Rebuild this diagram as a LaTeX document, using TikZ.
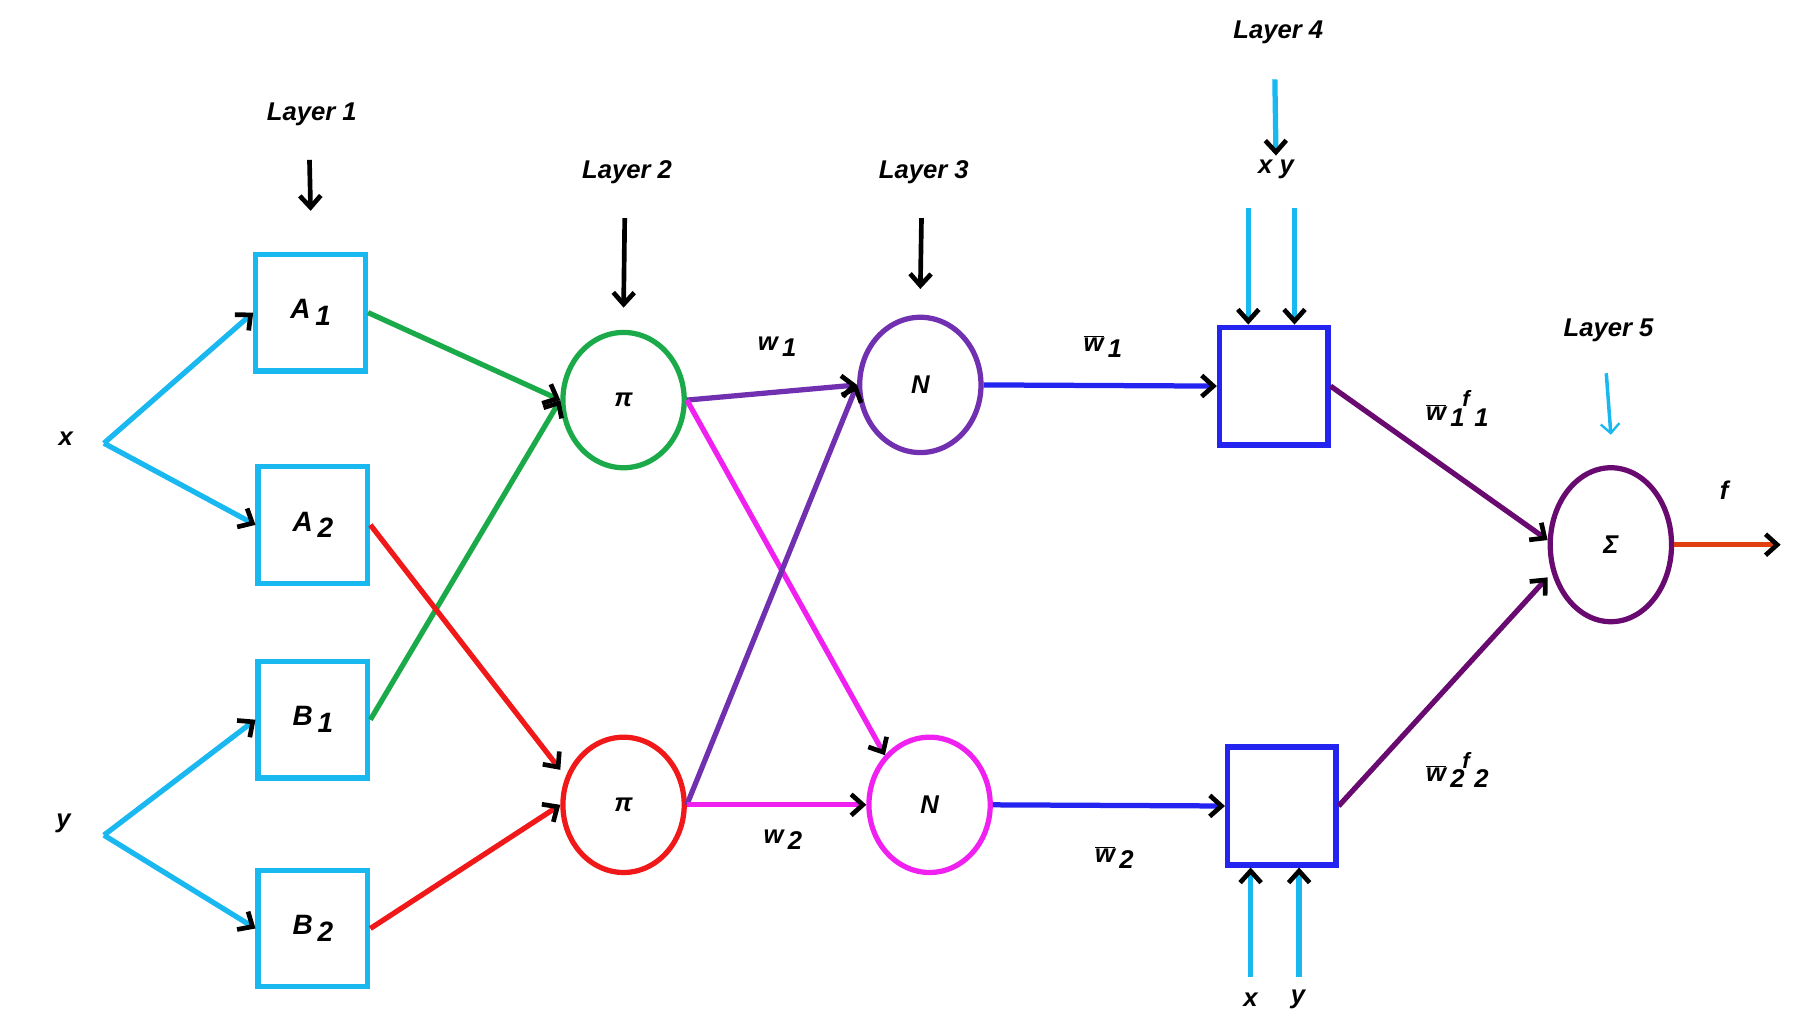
\documentclass[tikz,border=0pt]{standalone}
\usepackage{fontspec}
\setmainfont{Liberation Sans}
\usetikzlibrary{shapes.geometric,arrows.meta}
\definecolor{cyanb}{HTML}{1AB8F0}
\definecolor{grn}{HTML}{1BAA4A}
\definecolor{rd}{HTML}{F01818}
\definecolor{pur}{HTML}{7030B0}
\definecolor{mag}{HTML}{F020F0}
\definecolor{blu}{HTML}{2424F0}
\definecolor{dpur}{HTML}{680A70}
\definecolor{org}{HTML}{E04010}
\newcommand{\lowr}[1]{\raisebox{-0.45ex}{#1}}
\newcommand{\highr}[1]{\raisebox{1.0ex}{\fontsize{19}{19}\selectfont #1}}
\newcommand{\wbar}{$\overline{\mbox{\itshape\bfseries w}}$}
\tikzset{
  lbl/.style={font=\fontsize{22}{24}\selectfont\bfseries\itshape},
  box/.style={draw=cyanb, line width=4.5pt, minimum width=94pt, minimum height=100pt, font=\fontsize{24}{26}\selectfont\bfseries\itshape},
  sbox/.style={draw=blu, line width=4.5pt, minimum width=93pt, minimum height=101pt},
  oval/.style={ellipse, line width=4.5pt, minimum width=104pt, minimum height=116pt, font=\fontsize{22}{24}\selectfont\bfseries\itshape},
  con/.style={line width=4.5pt, -{Straight Barb[black,length=10pt,width=18pt,line width=4pt]}},
  down/.style={line width=4pt, black, -{Straight Barb[length=10pt,width=18pt,line width=4pt]}}
}
\begin{document}
\begin{tikzpicture}[x=0.99pt,y=-1pt]
\useasboundingbox (0,0) rectangle (1565.7,881);
% layer 1
\node[box] (A1) at (269,268) {A\,\lowr{1}};
\node[box] (A2) at (271,450) {A\,\lowr{2}};
\node[box] (B1) at (271,617) {B\,\lowr{1}};
\node[box] (B2) at (271,796) {B\,\lowr{2}};
\node[lbl] (lx) at (57,376) {x};
\node[lbl] (ly) at (55,706) {y};
\coordinate (px) at (90,380);
\coordinate (py) at (90,716);
\draw[con, cyanb] (px) -- (A1.west);
\draw[con, cyanb] (px) -- (A2.west);
\draw[con, cyanb] (py) -- (B1.west);
\draw[con, cyanb] (py) -- (B2.west);
\node[lbl] (L1) at (270,98) {Layer 1};
\coordinate (L1a) at (268,137);
\draw[down] (L1a) -- ([yshift=35pt]A1.north);
% layer 2
\node[oval, draw=grn] (P1) at (540,343) {π};
\node[oval, draw=rd] (P2) at (540,690) {π};
\node[lbl] (L2) at (543,148) {Layer 2};
\coordinate (L2a) at (541,187);
\draw[down] (L2a) -- ([yshift=19pt]P1.north);
\draw[con, grn] (A1.east) -- (P1.west);
\draw[con, grn] (B1.east) -- (P1.west);
\draw[con, rd] (A2.east) -- ([yshift=30pt]P2.west);
\draw[con, rd] (B2.east) -- (P2.west);
% layer 3
\node[oval, draw=pur] (N1) at (797,330) {N};
\node[oval, draw=mag] (N2) at (805,690) {N};
\node[lbl] (L3) at (800,148) {Layer 3};
\coordinate (L3a) at (798,187);
\draw[down] (L3a) -- ([yshift=22pt]N1.north);
\draw[con, pur] (P1.east) -- (N1.west);
\draw[con, mag] (P1.east) -- (N2.north west);
\draw[con, pur] (P2.east) -- (N1.west);
\draw[con, mag] (P2.east) -- (N2.west);
\node[lbl] (w1) at (673,297) {w\,\lowr{1}};
\node[lbl] (w2) at (678,720) {w\,\lowr{2}};
% layer 4
\node[sbox] (S1) at (1103,331) {};
\node[sbox] (S2) at (1110,691) {};
\draw[con, blu] (N1.east) -- (S1.west);
\draw[con, blu] (N2.east) -- (S2.west);
\node[lbl] (wb1) at (955,297) {\wbar\,\lowr{1}};
\node[lbl] (wb2) at (965,735) {\wbar\,\lowr{2}};
\node[lbl] (L4) at (1107,28) {Layer 4};
\node[lbl] (xy) at (1105,145) {x y};
\coordinate (L4a) at (1104,68);
\draw[con, cyanb] (L4a) -- (xy.north);
\coordinate (t1) at (1081,178);
\coordinate (t2) at (1121,178);
\draw[con, cyanb] (t1) -- (t1 |- S1.north);
\draw[con, cyanb] (t2) -- (t2 |- S1.north);
\node[lbl] (bx) at (1083,857) {x};
\node[lbl] (by) at (1124,857) {y};
\coordinate (b1) at (1083,838);
\coordinate (b2) at (1125,838);
\draw[con, cyanb] (b1) -- (b1 |- S2.south);
\draw[con, cyanb] (b2) -- (b2 |- S2.south);
% layer 5
\node[oval, draw=dpur, minimum height=132pt] (S) at (1395,467) {Σ};
\node[lbl] (L5) at (1393,283) {Layer 5};
\coordinate (L5a) at (1391,320);
\draw[line width=3pt, cyanb, -{Straight Barb[length=8pt,width=16pt,line width=2pt]}] (L5a) -- ([yshift=26pt]S.north);
\draw[con, dpur] (S1.east) -- ([yshift=4pt]S.west);
\draw[con, dpur] (S2.east) -- ([yshift=-28pt]S.west);
\node[lbl] (wf1) at (1262,350) {\wbar\,\lowr{1}\kern-2pt\highr{f}\kern4pt\lowr{1}};
\node[lbl] (wf2) at (1262,660) {\wbar\,\lowr{2}\kern-2pt\highr{f}\kern4pt\lowr{2}};
\coordinate (out) at (1542,467);
\draw[con, org] (S.east) -- (out);
\node[lbl] (lf) at (1493,420) {f};
\end{tikzpicture}
\end{document}
